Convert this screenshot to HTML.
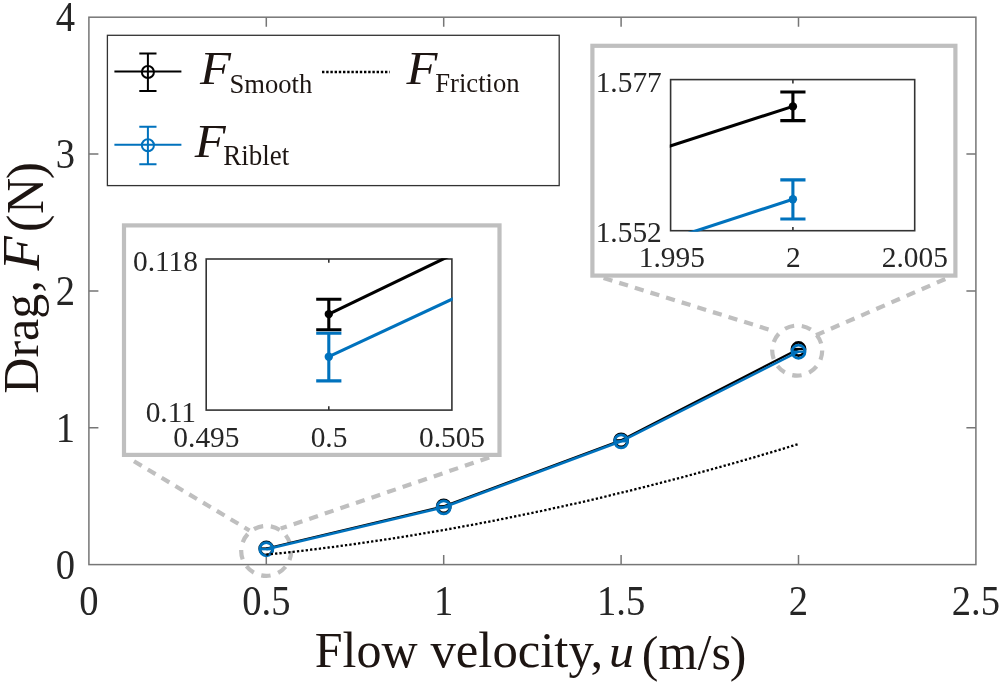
<!DOCTYPE html>
<html lang="en">
<head>
<meta charset="utf-8">
<title>Drag vs flow velocity</title>
<style>
html,body{margin:0;padding:0;background:#fff;}
body{width:1002px;height:685px;overflow:hidden;}
svg{display:block;}
</style>
</head>
<body>
<svg width="1002" height="685" viewBox="0 0 1002 685" font-family='"Liberation Serif", "Times New Roman", Times, serif'>
<rect x="0" y="0" width="1002" height="685" fill="#ffffff"/>
<g fill="none" stroke="#bfbfbf" stroke-width="4.2">
<circle cx="266.2" cy="550.9" r="25" stroke-dasharray="9.6 7.853" stroke-dashoffset="0.4"/>
<circle cx="797.2" cy="350.6" r="25" stroke-dasharray="9.6 7.853" stroke-dashoffset="0.4"/>
<path d="M134 461.2L249.5 530.5" stroke-dasharray="9 7.1"/>
<path d="M489.2 457.5L280.8 528.6" stroke-dasharray="9.2 7.25"/>
<path d="M603.6 278L768.6 329.5" stroke-dasharray="9.2 7.16"/>
<path d="M945.3 279L816 335.2" stroke-dasharray="9.2 7.3"/>
</g>
<g fill="none" stroke="#767676" stroke-width="1.5">
<rect x="88.9" y="17.2" width="887.0" height="547.4"/>
<path d="M266.3 564.6v-9.5M266.3 17.2v9.5"/>
<path d="M443.7 564.6v-9.5M443.7 17.2v9.5"/>
<path d="M621.1 564.6v-9.5M621.1 17.2v9.5"/>
<path d="M798.5 564.6v-9.5M798.5 17.2v9.5"/>
<path d="M88.9 427.8h9.5M975.9 427.8h-9.5"/>
<path d="M88.9 290.9h9.5M975.9 290.9h-9.5"/>
<path d="M88.9 154.1h9.5M975.9 154.1h-9.5"/>
</g>
<g font-size="40" fill="#262626">
<text transform="translate(88.9 614.6) scale(0.965 1.04)" text-anchor="middle">0</text>
<text transform="translate(266.3 614.6) scale(0.965 1.04)" text-anchor="middle">0.5</text>
<text transform="translate(443.7 614.6) scale(0.965 1.04)" text-anchor="middle">1</text>
<text transform="translate(621.1 614.6) scale(0.965 1.04)" text-anchor="middle">1.5</text>
<text transform="translate(798.5 614.6) scale(0.965 1.04)" text-anchor="middle">2</text>
<text transform="translate(975.9 614.6) scale(0.965 1.04)" text-anchor="middle">2.5</text>
<text transform="translate(75 578.8) scale(0.965 1.05)" text-anchor="end">0</text>
<text transform="translate(75 441.9) scale(0.965 1.05)" text-anchor="end">1</text>
<text transform="translate(75 305.1) scale(0.965 1.05)" text-anchor="end">2</text>
<text transform="translate(75 168.3) scale(0.965 1.05)" text-anchor="end">3</text>
<text transform="translate(75 31.4) scale(0.965 1.05)" text-anchor="end">4</text>
</g>
<g fill="#1d1512" font-size="50">
<text transform="translate(314.8 667.4)">Flow</text>
<text transform="translate(430.4 667.4) scale(1.015 1)">velocity,</text>
<text transform="translate(608.9 667.2) scale(1 0.93)" font-style="italic">u</text>
<text transform="translate(641.8 671.4) scale(1 1.025)">(</text>
<text transform="translate(658.6 668.6)">m/s</text>
<text transform="translate(729.8 671.4) scale(1 1.025)">)</text>
<text transform="translate(38 393.7) rotate(-90)">Drag</text>
<text transform="translate(38 292.6) rotate(-90)">,</text>
<text transform="translate(38.6 270.4) rotate(-90) scale(1.06 1)" font-size="53" font-style="italic">F</text>
<text transform="translate(43.0 232.1) rotate(-90)" font-size="52">(</text>
<text transform="translate(43 214.1) rotate(-90) scale(1.0 1.04)" font-size="50">N</text>
<text transform="translate(43.0 179.3) rotate(-90)" font-size="52">)</text>
</g>
<g fill="none" stroke="#000" stroke-width="2.1">
<path d="M266.3 548.5 L443.7 506.3 L621.1 440.3 L798.5 349.0"/>
<circle cx="266.3" cy="548.5" r="6.55" stroke-width="2.75"/>
<path d="M259.8 548.5h13" stroke-width="2.3"/>
<circle cx="443.7" cy="506.3" r="6.55" stroke-width="2.75"/>
<path d="M437.2 506.3h13" stroke-width="2.3"/>
<circle cx="621.1" cy="440.3" r="6.55" stroke-width="2.75"/>
<path d="M614.6 440.3h13" stroke-width="2.3"/>
<circle cx="798.5" cy="349.0" r="6.55" stroke-width="2.75"/>
<path d="M792.0 349.0h13" stroke-width="2.3"/>
</g>
<g fill="none" stroke="#0072BD" stroke-width="2.6">
<path d="M266.3 549.2 L443.7 507.3 L621.1 441.3 L798.5 351.7"/>
<circle cx="266.3" cy="549.2" r="6.55" stroke-width="2.75"/>
<path d="M259.8 549.2h13" stroke-width="2.3"/>
<circle cx="443.7" cy="507.3" r="6.55" stroke-width="2.75"/>
<path d="M437.2 507.3h13" stroke-width="2.3"/>
<circle cx="621.1" cy="441.3" r="6.55" stroke-width="2.75"/>
<path d="M614.6 441.3h13" stroke-width="2.3"/>
<circle cx="798.5" cy="351.7" r="6.55" stroke-width="2.75"/>
<path d="M792.0 351.7h13" stroke-width="2.3"/>
</g>
<path d="M266.3 554.7 L275.2 553.7 L284.0 552.8 L292.9 551.8 L301.8 550.8 L310.6 549.7 L319.5 548.7 L328.4 547.5 L337.3 546.4 L346.1 545.2 L355.0 544.0 L363.9 542.7 L372.7 541.4 L381.6 540.1 L390.5 538.8 L399.4 537.4 L408.2 536.0 L417.1 534.5 L426.0 533.0 L434.8 531.5 L443.7 530.0 L452.6 528.4 L461.4 526.8 L470.3 525.2 L479.2 523.5 L488.0 521.8 L496.9 520.1 L505.8 518.3 L514.7 516.5 L523.5 514.7 L532.4 512.9 L541.3 511.0 L550.1 509.1 L559.0 507.1 L567.9 505.2 L576.8 503.2 L585.6 501.2 L594.5 499.1 L603.4 497.0 L612.2 494.9 L621.1 492.8 L630.0 490.6 L638.8 488.4 L647.7 486.2 L656.6 483.9 L665.4 481.6 L674.3 479.3 L683.2 477.0 L692.1 474.6 L700.9 472.2 L709.8 469.8 L718.7 467.3 L727.5 464.9 L736.4 462.4 L745.3 459.8 L754.1 457.3 L763.0 454.7 L771.9 452.1 L780.8 449.4 L789.6 446.7 L798.5 444.0" fill="none" stroke="#000" stroke-width="2.3" stroke-dasharray="2.3 2.1"/>
<rect x="107.4" y="35.3" width="451.8" height="150.3" fill="#fff" stroke="#333" stroke-width="1.3"/>
<g fill="none" stroke="#000" stroke-width="2">
<path d="M114.4 71.6H181.4M147.9 53.6V91.1M139.3 53.6H156.5M139.3 91.1H156.5"/>
<circle cx="147.9" cy="72.0" r="6.05"/>
</g>
<g fill="none" stroke="#0072BD" stroke-width="2">
<path d="M114.4 144.8H181.4M147.9 126.8V164.3M139.3 126.8H156.5M139.3 164.3H156.5"/>
<circle cx="147.9" cy="145.2" r="6.05"/>
</g>
<path d="M322 72H389.8" fill="none" stroke="#000" stroke-width="2.5" stroke-dasharray="2.4 1.8"/>
<g fill="#1d1512">
<text transform="translate(200 83.5) scale(1.1 1)" font-size="46" font-style="italic">F</text>
<text transform="translate(229.5 92.8) scale(1 1.04)" font-size="26.6">Smooth</text>
<text transform="translate(406.6 83.5) scale(1.1 1)" font-size="46" font-style="italic">F</text>
<text transform="translate(435.2 92.2) scale(1 1.04)" font-size="26.7">Friction</text>
<text transform="translate(194.8 156.7) scale(1.1 1)" font-size="46" font-style="italic">F</text>
<text transform="translate(223.3 164.9) scale(1 1.07)" font-size="27">Riblet</text>
</g>
<g fill="#fff" stroke="#bfbfbf" stroke-width="4.2">
<rect x="124" y="225.4" width="375.5" height="229.5"/>
<rect x="592.4" y="45.8" width="363" height="229.8"/>
</g>
<clipPath id="c206"><rect x="205.4" y="258.2" width="247.3" height="152.9"/></clipPath>
<g fill="none" stroke="#333" stroke-width="1.6">
<rect x="206.2" y="259.0" width="245.7" height="151.1"/>
<path d="M328.8 259.0v3.8M328.8 410.1v-3.8"/>
</g>
<g clip-path="url(#c206)" fill="none" stroke-width="3.1">
<g stroke="#000">
<path d="M328.8 314.1L458.8 251.5"/>
<path d="M328.8 299.3V329.8M316.2 299.3h25.2M316.2 329.8h25.2"/>
<circle cx="328.8" cy="314.1" r="4.2" fill="#000" stroke="none"/>
</g>
<g stroke="#0072BD">
<path d="M328.8 356.7L458.8 296.1"/>
<path d="M328.8 333.3V380.9M316.2 333.3h25.2M316.2 380.9h25.2"/>
<circle cx="328.8" cy="356.7" r="4.2" fill="#0072BD" stroke="none"/>
</g>
</g>
<g font-size="29.4" fill="#262626">
<text transform="translate(198.0 270.8) scale(1 1.03)" text-anchor="end">0.118</text>
<text transform="translate(196.0 421.9) scale(1 1.03)" text-anchor="end">0.11</text>
<text transform="translate(206.4 446.9) scale(1 1.03)" text-anchor="middle">0.495</text>
<text transform="translate(329.0 446.9) scale(1 1.03)" text-anchor="middle">0.5</text>
<text transform="translate(452.0 446.9) scale(1 1.03)" text-anchor="middle">0.505</text>
</g>
<clipPath id="c670"><rect x="669.8" y="78.8" width="245.7" height="152.9"/></clipPath>
<g fill="none" stroke="#333" stroke-width="1.6">
<rect x="670.6" y="79.6" width="244.1" height="151.1"/>
<path d="M792.9 79.6v3.8M792.9 230.7v-3.8"/>
</g>
<g clip-path="url(#c670)" fill="none" stroke-width="3.1">
<g stroke="#000">
<path d="M792.9 106.4L662.9 148.4"/>
<path d="M792.9 92.0V120.6M780.3 92.0h25.2M780.3 120.6h25.2"/>
<circle cx="792.9" cy="106.4" r="4.2" fill="#000" stroke="none"/>
</g>
<g stroke="#0072BD">
<path d="M792.9 199.2L662.9 241.7"/>
<path d="M792.9 179.9V219.0M780.3 179.9h25.2M780.3 219.0h25.2"/>
<circle cx="792.9" cy="199.2" r="4.2" fill="#0072BD" stroke="none"/>
</g>
</g>
<g font-size="29.4" fill="#262626">
<text transform="translate(661.8 91.6) scale(1 1.03)" text-anchor="end">1.577</text>
<text transform="translate(661.8 242.2) scale(1 1.03)" text-anchor="end">1.552</text>
<text transform="translate(671.8 267.0) scale(1 1.03)" text-anchor="middle">1.995</text>
<text transform="translate(793.3 267.0) scale(1 1.03)" text-anchor="middle">2</text>
<text transform="translate(914.8 267.0) scale(1 1.03)" text-anchor="middle">2.005</text>
</g>
</svg>
</body>
</html>
